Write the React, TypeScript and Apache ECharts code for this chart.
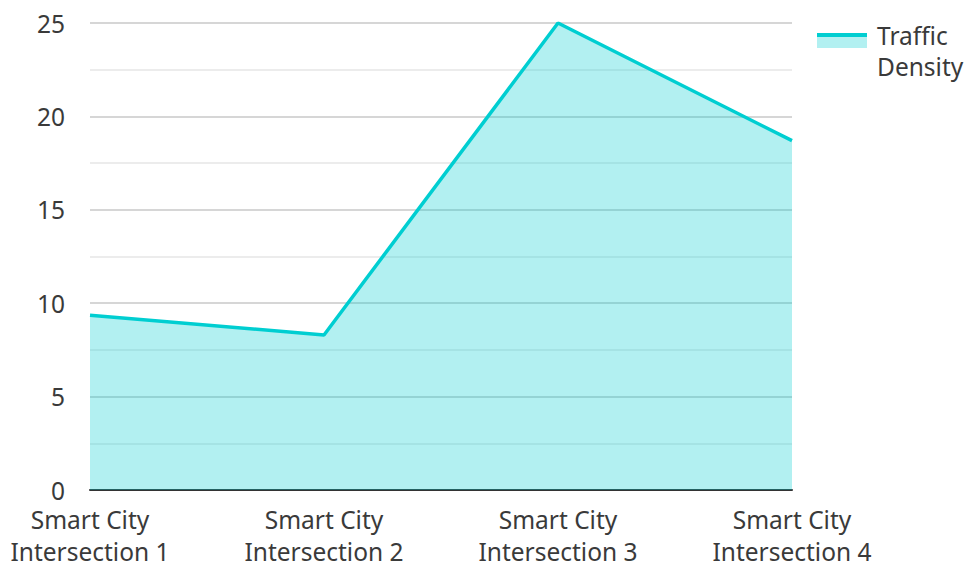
import React, { useEffect, useRef } from "react";
import * as echarts from "echarts";

const categories = [
  "Smart City Intersection 1",
  "Smart City Intersection 2",
  "Smart City Intersection 3",
  "Smart City Intersection 4",
];
const seriesName = "Traffic Density";
const values = [9.35, 8.3, 25, 18.7];
const yTicks = [0, 5, 10, 15, 20, 25];

const LINE = "#00CED1";
const FILL = "rgba(0,206,209,0.3)";
const TEXT = "#3a3a3a";
const FONT = "Noto Sans";
const FS = 24.5;

export default function App() {
  const ref = useRef<HTMLDivElement>(null);
  useEffect(() => {
    if (!ref.current) return;
    const chart = echarts.init(ref.current, undefined, { renderer: "svg" });
    chart.setOption({
      animation: false,
      textStyle: { fontFamily: FONT },
      grid: { left: 90, width: 702, top: 23, height: 467, containLabel: false, outerBoundsMode: "none" },
      legend: {
        show: true,
        left: 812,
        top: 15,
        orient: "vertical",
        icon: "rect",
        itemWidth: 55,
        itemHeight: 14,
        itemGap: 10,
        itemStyle: { color: "rgba(0,0,0,0)", borderWidth: 0 },
        textStyle: { fontFamily: FONT, fontSize: FS, color: TEXT, lineHeight: 31 },
        formatter: (n: string) => n.replace(" ", "\n"),
        data: [seriesName],
      },
      graphic: [
        { type: "rect", shape: { x: 817, y: 35, width: 50, height: 13 }, style: { fill: FILL }, z: 100 },
        { type: "line", shape: { x1: 817, y1: 35, x2: 867, y2: 35 }, style: { stroke: LINE, lineWidth: 4 }, z: 101 },
      ],
      xAxis: {
        type: "category",
        data: categories,
        boundaryGap: false,
        axisLine: { show: true, lineStyle: { color: "#333", width: 2 } },
        axisTick: { show: false },
        axisLabel: {
          fontFamily: FONT,
          fontSize: FS,
          color: TEXT,
          lineHeight: 32,
          margin: 13,
          interval: 0,
          formatter: (v: string) => v.replace(" Intersection", "\nIntersection"),
        },
        splitLine: { show: false },
      },
      yAxis: {
        type: "value",
        min: yTicks[0],
        max: yTicks[yTicks.length - 1],
        interval: 5,
        axisLine: { show: false },
        axisTick: { show: false },
        axisLabel: { fontFamily: FONT, fontSize: FS, color: TEXT, margin: 25, lineHeight: 20 },
        splitLine: { show: true, lineStyle: { color: "#c8c8c8", width: 1.5 } },
        minorTick: { show: false, splitNumber: 2 },
        minorSplitLine: { show: true, lineStyle: { color: "#e6e6e6", width: 1.5 } },
      },
      series: [
        {
          name: seriesName,
          type: "line",
          data: values,
          symbol: "none",
          lineStyle: { color: LINE, width: 3.5 },
          itemStyle: { color: LINE },
          areaStyle: { color: FILL, opacity: 1 },
        },
      ],
    });
    return () => chart.dispose();
  }, []);
  return <div ref={ref} style={{ width: 966, height: 562, position: "absolute", left: 0, top: 0 }} />;
}
